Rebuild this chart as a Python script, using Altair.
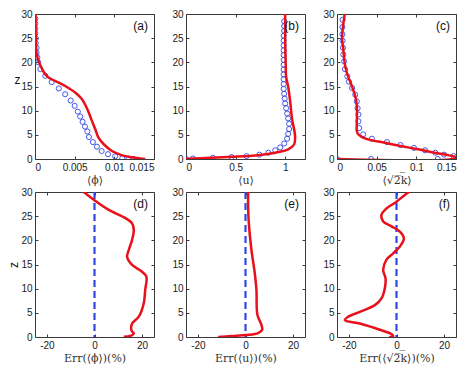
import altair as alt
import pandas as pd

SANS = "Liberation Sans"
SERIF = "DejaVu Serif"
RED = "#e8101a"
BLUE = "#3046e6"

# ---------------- data ----------------
z_ticks = [0, 5, 10, 15, 20, 25, 30]
a_ticks = [0, 0.005, 0.01, 0.015]
b_ticks = [0, 0.5, 1]
c_ticks = [0, 0.05, 0.1, 0.15]
err_ticks = [-20, 0, 20]

# (a) <phi>
a_line_z = [0, 0.1, 0.35, 0.75, 1.65, 3.0, 4.4, 6.15, 8.2, 10.3, 12.4, 13.7, 15.1, 15.8, 16.5, 17.0, 18.0, 19.3, 20.5, 22, 25, 30]
a_line_v = [0.0139, 0.0133, 0.0122, 0.0110, 0.0097, 0.0087, 0.0080, 0.0076, 0.0071, 0.0066, 0.0059, 0.0051, 0.0038, 0.0030, 0.0021, 0.0016, 0.0011, 0.0007, 0.0004, 0.0002, 0.0001, 0.00008]
a_circ_z = [0.0, 0.05, 0.15, 0.55, 1.0, 1.65, 2.55, 3.5, 4.55, 5.7, 6.7, 7.7, 8.8, 9.8, 11.0, 12.1, 13.4, 14.6, 15.9, 17.2, 18.6, 20.0, 21.0, 22.0, 23.0, 24.0, 25.0, 26.0, 27.0, 28.0, 29.0]
a_circ_v = [0.0124, 0.0118, 0.0110, 0.0101, 0.0092, 0.0084, 0.0078, 0.0073, 0.0068, 0.0066, 0.0063, 0.0060, 0.0057, 0.0054, 0.0050, 0.0045, 0.0038, 0.0030, 0.0021, 0.0013, 0.00067, 0.0004, 0.0003, 0.0002, 0.0002, 0.0001, 0.0001, 0.00005, 0.00005, 0.00005, 0.00005]

# (b) <u>
b_line_z = [0.05, 0.15, 0.25, 0.45, 0.8, 1.3, 2.0, 3.0, 4.76, 8.2, 10, 12, 15, 17, 20, 25, 30]
b_line_v = [0.0, 0.15, 0.25, 0.46, 0.73, 0.90, 1.03, 1.09, 1.10, 1.07, 1.06, 1.05, 1.03, 1.01, 1.005, 1.0, 1.0]
b_circ_z = [0.0, 0.1, 0.25, 0.4, 0.6, 0.9, 1.3, 1.8, 2.4, 3.2, 4.2, 5.2, 6.2, 7.3, 8.4, 9.4, 10.5, 11.5, 12.5, 13.5, 14.5, 15.5, 16.5, 17.5, 18.5, 19.5, 20.5, 21.5, 22.5, 23.5, 24.5, 25.5, 26.5, 27.5, 28.5]
b_circ_v = [0.0, 0.07, 0.27, 0.46, 0.61, 0.74, 0.83, 0.90, 0.95, 0.99, 1.02, 1.03, 1.04, 1.04, 1.03, 1.02, 1.01, 1.0, 0.995, 0.99, 0.985, 0.985, 0.985, 0.985, 0.985, 0.985, 0.985, 0.985, 0.985, 0.985, 0.985, 0.985, 0.99, 0.99, 0.99]

# (c) <sqrt(2k)>
c_line_z = [0.0, 0.1, 0.4, 0.8, 1.3, 2.0, 2.7, 3.4, 4.1, 5.1, 5.8, 7.5, 11.0, 13.0, 15.1, 17.9, 20.0, 22.7, 25, 30]
c_line_v = [0.0, 0.148, 0.149, 0.140, 0.123, 0.102, 0.080, 0.059, 0.038, 0.027, 0.025, 0.025, 0.025, 0.023, 0.0187, 0.0123, 0.0095, 0.008, 0.0064, 0.0097]
c_circ_z = [0.0, 0.0, 0.0, 0.6, 0.9, 1.3, 1.8, 2.3, 2.9, 3.5, 4.2, 5.1, 6.4, 7.8, 9.2, 10.5, 11.9, 13.3, 14.7, 16.0, 17.1, 18.6, 20.2, 21.6, 23.0, 24.5, 25.8, 27.3, 28.8]
c_circ_v = [0.0, 0.043, 0.127, 0.147, 0.135, 0.124, 0.111, 0.097, 0.080, 0.063, 0.044, 0.033, 0.028, 0.027, 0.027, 0.026, 0.025, 0.023, 0.019, 0.015, 0.013, 0.010, 0.009, 0.008, 0.0075, 0.007, 0.0068, 0.0068, 0.007]

# (d) Err(<phi>)
d_line_z = [0.07, 0.2, 0.7, 1.4, 2.8, 4.2, 7.0, 9.7, 12.5, 13.5, 14.9, 16.6, 18.0, 20.1, 22.2, 23.5, 24.6, 26.3, 28.4, 30]
d_line_v = [12.3, 15.0, 16.5, 15.5, 15.8, 18.6, 20.7, 21.3, 21.8, 20.0, 15.8, 13.7, 14.4, 15.8, 16.5, 15.8, 13.0, 6.0, -0.3, -4.5]

# (e) Err(<u>)
e_line_z = [0.0, 0.2, 0.4, 0.8, 1.5, 2.5, 4.6, 9.7, 13.2, 18.0, 23.5, 27.0, 30]
e_line_v = [-11.5, -5.9, 0.4, 5.3, 7.0, 6.7, 5.0, 4.6, 3.9, 2.5, 1.4, 1.1, 1.1]

# (f) Err(<sqrt(2k)>)
f_line_z = [0.0, 0.1, 0.6, 1.5, 2.8, 3.5, 4.2, 5.2, 6.6, 8.0, 10.1, 12.1, 13.9, 16.0, 17.3, 18.7, 20.4, 21.8, 22.9, 23.9, 25.3, 26.6, 28.0, 29.4, 30]
f_line_v = [-3.1, -1.4, -2.1, -7.0, -15.4, -21.7, -20.3, -15.4, -9.1, -6.3, -4.9, -4.6, -5.6, -4.2, -1.4, 1.4, 3.1, 1.4, -2.1, -5.6, -6.3, -4.2, 0.0, 3.5, 5.3]

panel_labels = ["(a)", "(b)", "(c)", "(d)", "(e)", "(f)"]
x_titles = ["⟨ϕ⟩", "⟨u⟩", "⟨√2̅k̅⟩", "Err(⟨ϕ⟩)(%)", "Err(⟨u⟩)(%)", "Err(⟨√2̅k̅⟩)(%)"]

W, H = 119, 145


def panel(line_z, line_v, xdom, xticks, xtitle, label, ytitle=None, title_angle=270,
          title_pad=2, circ_z=None, circ_v=None, zero_rule=False):
    ldf = pd.DataFrame({"i": list(range(len(line_z))), "z": line_z, "v": line_v})
    xs = alt.Scale(domain=xdom, nice=False, zero=False)
    ys = alt.Scale(domain=[0, 30], nice=False, zero=False)
    layers = []
    if circ_z is not None:
        cdf = pd.DataFrame({"z": circ_z, "v": circ_v})
        layers.append(
            alt.Chart(cdf).mark_point(shape="circle", filled=False, size=26, color=BLUE,
                                      strokeWidth=1, opacity=0.9, clip=True).encode(
                x=alt.X("v:Q", scale=xs, axis=None),
                y=alt.Y("z:Q", scale=ys, axis=None),
            )
        )
    if zero_rule:
        layers.append(
            alt.Chart(pd.DataFrame({"v": [0]})).mark_rule(color=BLUE, strokeDash=[7, 4],
                                                        strokeWidth=2.2).encode(
                x=alt.X("v:Q", scale=xs, axis=None)
            )
        )
    yaxis_kw = dict(orient="left", values=z_ticks, title=ytitle, titleFont=SANS,
                    titleFontSize=12, titleColor="#111", titlePadding=title_pad,
                    labelExpr="toString(datum.value)")
    if ytitle is not None:
        yaxis_kw["titleAngle"] = title_angle
    main = alt.Chart(ldf).mark_line(color=RED, strokeWidth=2.5, interpolate="catmull-rom",
                                    clip=True).encode(
        x=alt.X("v:Q", scale=xs, axis=alt.Axis(orient="bottom", values=xticks,
                                               labelExpr="toString(datum.value)",
                                               title=xtitle)),
        y=alt.Y("z:Q", scale=ys, axis=alt.Axis(**yaxis_kw)),
        order=alt.Order("i:Q"),
    )
    ghost = alt.Chart(ldf).mark_point(opacity=0).encode(
        x=alt.X("v:Q", scale=xs, axis=alt.Axis(orient="top", values=xticks, labels=False, title=None)),
        y=alt.Y("z:Q", scale=ys, axis=alt.Axis(orient="right", values=z_ticks, labels=False, title=None)),
    )
    text = alt.Chart(pd.DataFrame({"t": [label]})).mark_text(
        align="right", baseline="middle", fontSize=12, font=SANS, color="#111"
    ).encode(text="t:N", x=alt.value(W - 6), y=alt.value(12))
    return alt.layer(*layers, main, ghost, text).resolve_scale(
        x="independent", y="independent").properties(width=W, height=H)


pa = panel(a_line_z, a_line_v, [0, 0.015], a_ticks, x_titles[0], panel_labels[0], ytitle="z",
           title_angle=0, title_pad=4, circ_z=a_circ_z, circ_v=a_circ_v)
pb = panel(b_line_z, b_line_v, [0, 1.2], b_ticks, x_titles[1], panel_labels[1],
           circ_z=b_circ_z, circ_v=b_circ_v)
pc = panel(c_line_z, c_line_v, [0, 0.15], c_ticks, x_titles[2], panel_labels[2],
           circ_z=c_circ_z, circ_v=c_circ_v)
pd_ = panel(d_line_z, d_line_v, [-25, 25], err_ticks, x_titles[3], panel_labels[3], ytitle="z",
            title_pad=0, zero_rule=True)
pe = panel(e_line_z, e_line_v, [-25, 25], err_ticks, x_titles[4], panel_labels[4], zero_rule=True)
pf = panel(f_line_z, f_line_v, [-25, 25], err_ticks, x_titles[5], panel_labels[5], zero_rule=True)

chart = alt.concat(pa, pb, pc, pd_, pe, pf, columns=3, spacing={"row": 33, "column": 32},
                   bounds="flush").properties(
    padding={"left": -1, "top": 0, "right": 0, "bottom": 0}
).configure_view(
    stroke="#3a3a3a", strokeWidth=1
).configure_axis(
    offset=-3, tickSize=3, domain=False, grid=False, labelFont=SANS, labelFontSize=10,
    labelColor="#1a1a1a", tickColor="#3a3a3a", labelPadding=3, labelOverlap=False,
    labelBound=False,
    titleFont=SERIF, titleFontSize=11, titleFontWeight="normal", titleColor="#333",
    titlePadding=2,
)

chart.save("out.html", embed_options={"renderer": "svg", "actions": False})
